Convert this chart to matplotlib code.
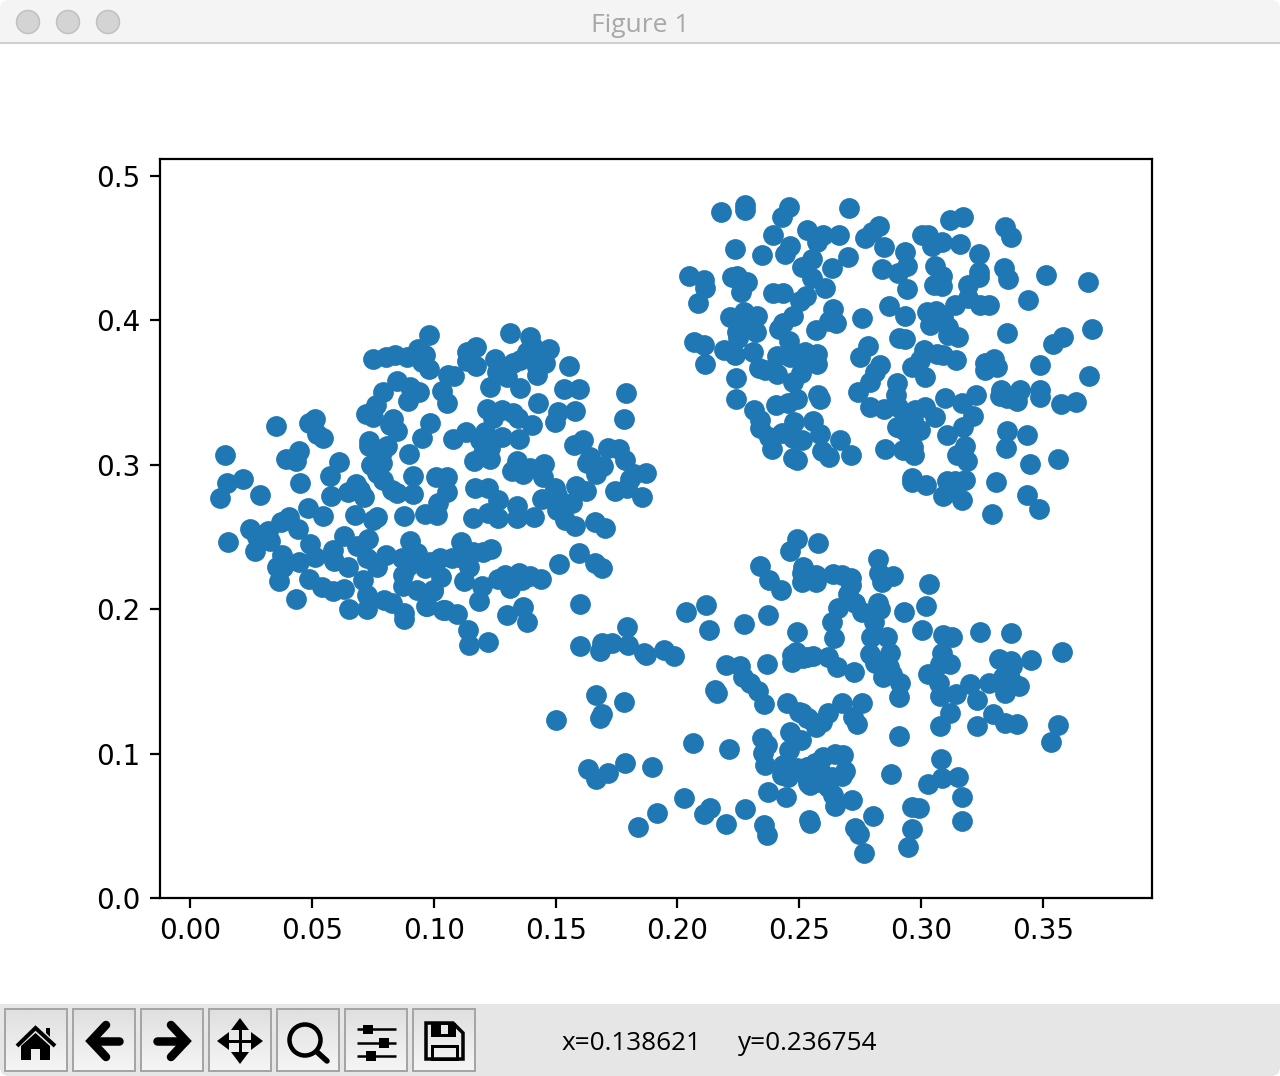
import numpy as np
import matplotlib
matplotlib.use("Agg")
import matplotlib.pyplot as plt
from matplotlib.patches import Rectangle, Circle, Polygon, FancyBboxPatch

# points, one list per part of the plot
left_lower = [
    (.0982,.3899),(.0751,.3733),(.0803,.3749),(.0841,.3761),(.0889,.3745),(.0937,.3800),(.0964,.3761),(.0951,.3714),
    (.0982,.3661),(.0848,.3581),(.0793,.3502),(.0903,.3541),(.0941,.3507),(.0896,.3440),(.1033,.3514),(.0762,.3414),
    (.0724,.3352),(.0752,.3329),(.0835,.3318),(.0821,.3276),(.0848,.3237),(.0986,.3288),(.0953,.3184),(.0736,.3163),
    (.0736,.3131),(.0807,.3133),(.0787,.3091),(.0900,.3073),(.0741,.2999),(.0787,.3011),(.0613,.3017),(.0576,.2921),
    (.0917,.2921),(.1008,.2914),(.0683,.2865),(.0766,.2941),(.0793,.2895),(.0828,.2826),(.0851,.2807),(.0917,.2796),
    (.0580,.2782),(.0650,.2810),(.0715,.2780),(.0698,.2826),(.0354,.3267),(.0513,.3315),(.0490,.3288),(.0523,.3214),
    (.0547,.3184),(.0145,.3066),(.0446,.3096),(.0393,.3038),(.0435,.3027),(.0219,.2904),(.0153,.2872),(.0124,.2768),
    (.0286,.2791),(.0453,.2872),(.0486,.2699),(.0547,.2644),(.0678,.2651),(.0769,.2637),(.0750,.2618),(.0880,.2644),
    (.0966,.2657),(.1015,.2653),(.1019,.2734),(.0246,.2554),(.0408,.2637),(.0373,.2602),(.0442,.2558),(.0321,.2540),
    (.0276,.2503),(.0328,.2475),(.0157,.2464),(.0268,.2406),(.0633,.2505),(.0732,.2487),(.0684,.2438),(.0904,.2471),
    (.0494,.2450),(.0379,.2374),(.0356,.2290),(.0383,.2295),(.0367,.2198),(.0449,.2325),(.0514,.2364),(.0585,.2408),
    (.0591,.2332),(.0647,.2295),(.0725,.2353),(.0766,.2295),(.0804,.2374),(.0869,.2353),(.0930,.2387),(.0889,.2295),
    (.0875,.2237),(.0711,.2203),(.0490,.2207),(.0540,.2152),(.0588,.2129),(.0633,.2138),(.0436,.2069),(.0725,.2099),
    (.0794,.2064),(.0830,.2041),(.0880,.1972),(.0880,.1930),(.0654,.2002),(.0728,.2004),(.0876,.2164),(.0930,.2134),
    (.0971,.2023),(.0999,.2134),(.0964,.2284),(.0999,.2318),(.1040,.1995),
]
left_upper = [
    (.1311,.3911),(.1393,.3883),(.1172,.3814),(.1138,.3784),(.1138,.3721),(.1172,.3687),(.1253,.3733),(.1475,.3800),
    (.1382,.3784),(.1436,.3772),(.1409,.3818),(.1354,.3726),(.1327,.3703),(.1423,.3680),(.1259,.3645),(.1300,.3611),
    (.1423,.3622),(.1457,.3703),(.1229,.3537),(.1352,.3534),(.1557,.3685),(.1536,.3523),(.1595,.3523),(.1788,.3495),
    (.1780,.3315),(.1426,.3426),(.1508,.3364),(.1497,.3299),(.1579,.3371),(.1405,.3274),(.1218,.3387),(.1279,.3380),
    (.1327,.3357),(.1345,.3327),(.1245,.3322),(.1060,.3622),(.1085,.3615),(.1056,.3426),(.1081,.3177),(.1134,.3230),
    (.1211,.3230),(.1279,.3191),(.1349,.3177),(.1190,.3172),(.1231,.3114),(.1167,.3027),(.1230,.3038),(.1204,.3080),
    (.1341,.3027),(.1320,.2960),(.1365,.2937),(.1395,.2976),(.1454,.3004),(.1450,.2918),(.1498,.2837),(.1576,.3135),
    (.1612,.3172),(.1717,.3117),(.1762,.3107),(.1785,.3034),(.1642,.3052),(.1628,.3011),(.1696,.2992),(.1666,.2937),
    (.1870,.2941),(.1820,.2937),(.1806,.2900),(.1792,.2837),(.1742,.2817),(.1856,.2775),(.1584,.2856),(.1624,.2819),
    (.1566,.2734),(.1505,.2687),(.1446,.2761),(.1505,.2791),(.1539,.2618),(.1581,.2574),(.1662,.2602),(.1702,.2561),
    (.1171,.2842),(.1224,.2842),(.1265,.2757),(.1341,.2717),(.1224,.2669),(.1265,.2630),(.1163,.2630),(.1341,.2630),
    (.1413,.2637),(.1053,.2914),(.1056,.2810),(.1114,.2464),(.1235,.2417),(.1204,.2399),(.1163,.2399),(.1115,.2353),
    (.1074,.2357),(.1026,.2353),(.0985,.2330),(.1145,.2295),(.1126,.2198),(.1029,.2226),(.1197,.2164),(.1187,.2060),
    (.0996,.2129),(.0969,.2023),(.1047,.1995),(.1094,.1965),(.1142,.1857),(.1145,.1753),(.1222,.1771),(.1302,.1958),
    (.1368,.2018),(.1384,.1914),(.1293,.2237),(.1265,.2207),(.1350,.2249),(.1313,.2145),(.1361,.2203),(.1396,.2231),
    (.1439,.2207),(.1516,.2311),(.1595,.2387),(.1660,.2318),(.1690,.2288),(.1602,.2034),
]
bottom_left = [
    (.1602,.1743),(.1795,.1875),(.1799,.1753),(.1731,.1764),(.1692,.1764),(.1683,.1713),(.1863,.1695),(.1870,.1680),
    (.1943,.1718),(.1987,.1673),(.2034,.1978),(.2119,.2026),(.2131,.1856),(.2275,.1895),(.2373,.1957),(.2340,.2299),
    (.2377,.2200),(.2426,.2130),(.2462,.2400),(.2492,.2483),(.2517,.2289),(.2510,.2248),(.2510,.2190),(.2492,.1842),
    (.2369,.1618),(.2199,.1611),(.2258,.1606),(.2268,.1532),(.2298,.1491),(.2332,.1433),(.2357,.1341),(.2156,.1440),
    (.2164,.1417),(.2451,.1348),(.2500,.1290),(.2530,.1244),(.2469,.1682),(.2485,.1706),(.2472,.1636),(.2530,.1671),
    (.1667,.1403),(.1782,.1355),(.1692,.1272),(.1682,.1249),(.1503,.1230),(.2065,.1071),(.2213,.1029),(.2347,.1105),
    (.2366,.1059),(.2353,.1006),(.2359,.0921),(.2462,.1147),(.2506,.1094),(.2459,.1025),(.2435,.0921),(.2431,.0852),
    (.2489,.0898),(.2455,.0836),(.2530,.0909),(.2537,.0794),(.2373,.0732),(.2444,.0697),(.1634,.0893),(.1666,.0822),
    (.1714,.0863),(.1786,.0932),(.1897,.0905),(.2028,.0690),(.1918,.0586),(.1840,.0489),(.2135,.0621),(.2110,.0579),
    (.2201,.0510),(.2279,.0614),(.2357,.0505),(.2369,.0436),(.2541,.0540),(.2544,.0517),
]
bottom_right = [
    (.2578,.2456),(.2824,.2345),(.2827,.2248),(.2886,.2229),(.2841,.2190),(.3034,.2172),(.3019,.2019),(.2931,.1978),
    (.3005,.1853),(.3090,.1819),(.3128,.1807),(.3240,.1844),(.3370,.1835),(.3577,.1701),(.2524,.2202),(.2567,.2236),
    (.2567,.2186),(.2640,.2241),(.2674,.2236),(.2711,.2213),(.2711,.2167),(.2699,.2105),(.2729,.2045),(.2658,.2006),
    (.2756,.1978),(.2824,.2040),(.2831,.2001),(.2808,.1909),(.2633,.1909),(.2644,.1798),(.2794,.1809),(.2861,.1807),
    (.2792,.1687),(.2872,.1694),(.2811,.1625),(.2866,.1602),(.2845,.1532),(.2879,.1551),(.2913,.1491),(.2907,.1394),
    (.2726,.1562),(.2653,.1602),(.2619,.1666),(.2558,.1678),(.2517,.1659),(.3084,.1694),(.3078,.1618),(.3119,.1618),
    (.3026,.1553),(.3075,.1486),(.3077,.1399),(.3143,.1410),(.3202,.1479),(.3227,.1371),(.3280,.1486),(.3321,.1655),
    (.3369,.1643),(.3452,.1648),(.3374,.1606),(.3337,.1532),(.3365,.1521),(.3402,.1468),(.3344,.1417),(.3120,.1281),
    (.3079,.1189),(.3227,.1189),(.3296,.1272),(.3344,.1209),(.3395,.1202),(.3563,.1198),(.3534,.1078),(.2677,.1352),
    (.2756,.1352),(.2619,.1283),(.2722,.1255),(.2736,.1202),(.2907,.1119),(.2510,.1283),(.2537,.1244),(.2569,.1186),
    (.2592,.1216),(.3080,.0962),(.2878,.0856),(.3150,.0835),(.3087,.0829),(.3026,.0787),(.3169,.0697),(.3169,.0531),
    (.2961,.0632),(.2991,.0621),(.2961,.0478),(.2947,.0355),(.2804,.0565),(.2730,.0482),(.2744,.0441),(.2767,.0309),
    (.2718,.0679),(.2640,.0713),(.2648,.0639),(.2599,.0979),(.2647,.0997),(.2681,.0990),(.2688,.0882),(.2674,.0845),
    (.2633,.0840),(.2619,.0771),(.2565,.0932),(.2537,.0909),(.2530,.0840),(.2544,.0782),(.2585,.0886),(.2571,.0805),
]
top_left = [
    (.2177,.4748),(.2279,.4799),(.2279,.4765),(.2456,.4788),(.2431,.4718),(.2702,.4776),(.2390,.4591),(.2532,.4626),
    (.2597,.4591),(.2572,.4545),(.2661,.4591),(.2768,.4568),(.2825,.4654),(.2798,.4614),(.2846,.4506),(.2238,.4492),
    (.2345,.4451),(.2460,.4515),(.2443,.4458),(.2551,.4423),(.2513,.4368),(.2698,.4437),(.2636,.4361),(.2840,.4358),
    (.2550,.4291),(.2605,.4222),(.2049,.4308),(.2107,.4280),(.2111,.4227),(.2086,.4118),(.2222,.4298),(.2244,.4308),
    (.2287,.4266),(.2264,.4234),(.2259,.4194),(.2390,.4188),(.2435,.4188),(.2527,.4169),(.2501,.4137),(.2640,.4079),
    (.2870,.4100),(.2759,.4014),(.2473,.4031),(.2432,.3984),(.2415,.3941),(.2214,.4021),(.2274,.4061),(.2326,.4031),
    (.2322,.3922),(.2244,.3922),(.2278,.3980),(.2250,.3876),(.2620,.3996),(.2651,.3980),(.2569,.3934),(.2456,.3857),
    (.2068,.3848),(.2107,.3827),(.2193,.3795),(.2237,.3761),(.2312,.3779),(.2111,.3696),(.2408,.3754),(.2462,.3749),
    (.2524,.3784),(.2572,.3767),(.2572,.3696),(.2524,.3726),(.2508,.3634),(.2333,.3668),(.2360,.3657),(.2410,.3627),
    (.2476,.3576),(.2780,.3823),(.2747,.3749),(.2832,.3691),(.2811,.3645),(.2791,.3576),(.2740,.3502),(.2792,.3398),
    (.2846,.3384),(.2242,.3599),(.2242,.3454),(.2490,.3456),(.2452,.3426),(.2405,.3412),(.2575,.3484),(.2586,.3454),
    (.2316,.3380),(.2339,.3310),(.2337,.3253),(.2374,.3195),(.2387,.3107),(.2431,.3218),(.2480,.3299),(.2476,.3184),
    (.2512,.3172),(.2555,.3301),(.2583,.3211),(.2665,.3172),(.2592,.3098),(.2621,.3052),(.2710,.3066),(.2476,.3050),
    (.2490,.3033),(.2852,.3107),
]
top_right = [
    (.3118,.4695),(.3173,.4714),(.3345,.4644),(.3370,.4580),(.3002,.4591),(.3029,.4591),(.3043,.4515),(.3087,.4541),
    (.3161,.4527),(.2935,.4474),(.3239,.4460),(.3057,.4377),(.2940,.4377),(.2906,.4326),(.3084,.4308),(.3239,.4337),
    (.3239,.4303),(.3341,.4361),(.3358,.4284),(.3514,.4312),(.3686,.4264),(.3054,.4245),(.3084,.4241),(.3194,.4245),
    (.2943,.4218),(.3440,.4139),(.2935,.4028),(.3023,.4061),(.3061,.4067),(.3140,.4104),(.3194,.4153),(.3241,.4104),
    (.3280,.4104),(.3036,.3968),(.3091,.4026),(.3111,.3957),(.3111,.3899),(.3150,.3883),(.3354,.3911),(.3701,.3938),
    (.3581,.3883),(.3542,.3837),(.2910,.3876),(.2935,.3869),(.3012,.3795),(.3064,.3765),(.3091,.3761),(.3144,.3724),
    (.2964,.3675),(.2995,.3726),(.3017,.3611),(.3262,.3707),(.3297,.3733),(.3310,.3680),(.3263,.3657),(.3489,.3689),
    (.3690,.3613),(.3326,.3518),(.3323,.3479),(.3351,.3461),(.3406,.3518),(.3395,.3440),(.3385,.3484),(.3486,.3518),
    (.3489,.3472),(.3226,.3481),(.3166,.3426),(.3099,.3461),(.3575,.3419),(.3637,.3433),(.3214,.3336),(.3170,.3260),
    (.3107,.3204),(.3354,.3234),(.3436,.3207),(.3349,.3114),(.3181,.3130),(.3148,.3068),(.3187,.3027),(.3448,.3003),
    (.3563,.3038),(.2899,.3564),(.2897,.3484),(.2906,.3403),(.2975,.3380),(.3016,.3403),(.3057,.3329),(.2899,.3264),
    (.2927,.3287),(.2968,.3310),(.2995,.3241),(.2940,.3218),(.2913,.3253),(.2927,.3103),(.2968,.3126),(.2972,.3068),
    (.2964,.2907),(.2964,.2879),(.3018,.2858),(.3105,.2890),(.3139,.2890),(.3180,.2895),(.3125,.2849),(.3091,.2784),
    (.3169,.2754),(.3308,.2879),(.3436,.2789),(.3485,.2692),(.3292,.2657),
]

x_ticks = [0.00, 0.05, 0.10, 0.15, 0.20, 0.25, 0.30, 0.35]
y_ticks = [0.0, 0.1, 0.2, 0.3, 0.4, 0.5]
title = "Figure 1"
coord_x = "x=0.138621"
coord_y = "y=0.236754"

W, H = 1280, 1076
fig = plt.figure(figsize=(W / 200, H / 200), dpi=200, facecolor="white")

# window chrome, drawn in pixel coordinates on a full size axes
bg = fig.add_axes([0, 0, 1, 1], zorder=0)
bg.set_xlim(0, W)
bg.set_ylim(H, 0)
bg.axis("off")


def px(v):
    # pixels to points at 200 dpi
    return v * 72 / 200


def stroke(xs, ys, width, cap="round"):
    bg.plot(xs, ys, color="black", lw=px(width), solid_capstyle=cap, solid_joinstyle="miter", zorder=3)


def fill(pts, color="black"):
    bg.add_patch(Polygon(pts, closed=True, fc=color, ec="none", zorder=3))


# title bar
bg.add_patch(FancyBboxPatch((0, 0), W, 50, boxstyle="round,pad=0,rounding_size=9", fc="#f4f4f4", ec="none"))
bg.add_patch(Rectangle((0, 12), W, 31, fc="#f4f4f4", ec="none"))
bg.add_patch(Rectangle((0, 43), W, 9, fc="white", ec="none"))
bg.plot([0, W], [43, 43], color="#cfcfcf", lw=px(2))
for cx in [28, 68, 108]:
    bg.add_patch(Circle((cx, 22), 11.5, fc="#d4d4d4", ec="#c0c0c0", lw=px(1.5)))
bg.text(640, 25, title, ha="center", va="center", color="#a8a8a8", fontsize=9.5, family="Open Sans")

# toolbar
bg.add_patch(FancyBboxPatch((0, 1004), W, 72, boxstyle="round,pad=0,rounding_size=9", fc="#e6e6e6", ec="none"))
bg.add_patch(Rectangle((0, 1004), W, 30, fc="#e6e6e6", ec="none"))
shade = np.linspace(0.875, 0.96, 32).reshape(-1, 1)
for left in [5, 73, 141, 209, 277, 345, 413]:
    bg.imshow(shade, cmap="gray", vmin=0, vmax=1, extent=(left, left + 62, 1071, 1009), aspect="auto", zorder=1)
    bg.add_patch(Rectangle((left, 1009), 62, 62, fc="none", ec="#a5a5a5", lw=px(2), zorder=2))

bg.text(562, 1043, coord_x, ha="left", va="center", fontsize=9.4, family="Open Sans", color="black")
bg.text(738, 1043, coord_y, ha="left", va="center", fontsize=9.4, family="Open Sans", color="black")

# home
stroke([17, 35.5, 55], [1046, 1028, 1046], 4, "butt")
fill([(21, 1046), (35.5, 1033), (50, 1046), (50, 1060), (40, 1060), (40, 1049), (31, 1049), (31, 1060), (21, 1060)])
fill([(46, 1028), (50, 1028), (50, 1037), (46, 1033)])
# back
stroke([92, 119], [1041, 1041], 8.5)
stroke([106, 91, 106], [1025, 1041, 1057], 8.5)
# forward
stroke([157, 185], [1041, 1041], 8.5)
stroke([171, 186, 171], [1025, 1041, 1057], 8.5)
# move
stroke([222, 258], [1041, 1041], 3, "butt")
stroke([240, 240], [1023, 1059], 3, "butt")
fill([(217, 1041), (229, 1032), (229, 1050)])
fill([(263, 1041), (251, 1032), (251, 1050)])
fill([(240, 1018), (231, 1030), (249, 1030)])
fill([(240, 1064), (231, 1052), (249, 1052)])
# zoom
bg.add_patch(Circle((305, 1040), 15.5, fc="none", ec="black", lw=px(4.5), zorder=3))
stroke([317, 327], [1052, 1061], 5.5)
# sliders
stroke([357, 396], [1029, 1029], 2.5, "butt")
stroke([357, 396], [1043, 1043], 2.5, "butt")
stroke([357, 396], [1056, 1056], 2.5, "butt")
bg.add_patch(Rectangle((363, 1025), 10, 9, fc="black", ec="none", zorder=3))
bg.add_patch(Rectangle((379, 1038), 10, 10, fc="black", ec="none", zorder=3))
bg.add_patch(Rectangle((366, 1051), 10, 10, fc="black", ec="none", zorder=3))
# save
bg.add_patch(Polygon([(426, 1023), (453, 1023), (463, 1033), (463, 1059), (426, 1059)], closed=True, fc="none", ec="black", lw=px(3.5), zorder=3))
bg.add_patch(Rectangle((431, 1023), 25, 14, fc="black", ec="none", zorder=3))
bg.add_patch(Rectangle((441, 1025), 7, 9, fc="#e8e8e8", ec="none", zorder=4))
bg.add_patch(Rectangle((432, 1046), 25, 13, fc="none", ec="black", lw=px(3), zorder=3))
bg.set_xlim(0, W)
bg.set_ylim(H, 0)

# the scatter
ax = fig.add_axes([160 / W, (H - 898) / H, 992 / W, 739 / H], zorder=1)
points = left_lower + left_upper + bottom_left + bottom_right + top_left + top_right
xs = [p[0] for p in points]
ys = [p[1] for p in points]
ax.scatter(xs, ys, s=42)
ax.set_xlim(-0.0123, 0.3947)
ax.set_ylim(0, 0.5118)
ax.set_xticks(x_ticks)
ax.set_xticklabels(["%.2f" % t for t in x_ticks])
ax.set_yticks(y_ticks)
ax.set_yticklabels(["%.1f" % t for t in y_ticks])

fig.savefig("out.png", dpi=200)
